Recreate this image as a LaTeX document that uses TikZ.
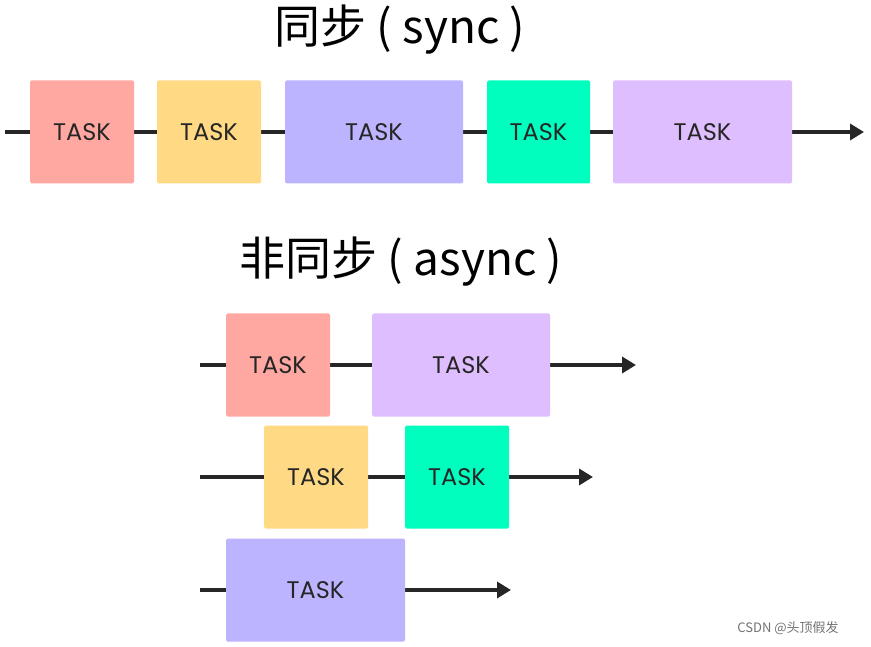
\documentclass[tikz,border=0pt]{standalone}
\usepackage{fontspec}
\setmainfont{Poppins}
\newfontfamily\cjk{Noto Sans CJK SC}
\usetikzlibrary{arrows.meta}
\definecolor{cpink}{HTML}{FFA8A2}
\definecolor{cyel}{HTML}{FFD983}
\definecolor{cblue}{HTML}{BDB4FF}
\definecolor{cgreen}{HTML}{00FFBF}
\definecolor{clav}{HTML}{DFBEFF}
\tikzset{task/.style={fill=#1,rounded corners=1.5pt,inner sep=0pt,font=\fontsize{24}{26}\selectfont,text=black!85},
 ln/.style={line width=3.5pt,black!85},
 arr/.style={ln,-{Triangle[length=14pt,width=16pt]}}}
\begin{document}
\begin{tikzpicture}[x=1pt,y=-1pt]
\useasboundingbox[fill=white] (0,0) rectangle (871,647);
\node[font=\cjk\fontsize{46}{50}\selectfont] (t1) at (400,30) {同步 ( sync )};
\node[font=\cjk\fontsize{46}{50}\selectfont] (t2) at (401,262) {非同步 ( async )};
% row 1
\coordinate (s1) at (5,132); \coordinate (e1) at (864,132);
\draw[arr] (s1) -- (e1);
\node[task=cpink,minimum width=104,minimum height=103] (a1) at (82,132) {TASK};
\node[task=cyel,minimum width=104,minimum height=103] (a2) at (209,132) {TASK};
\node[task=cblue,minimum width=178,minimum height=103] (a3) at (374,132) {TASK};
\node[task=cgreen,minimum width=103,minimum height=103] (a4) at (538.5,132) {TASK};
\node[task=clav,minimum width=179,minimum height=103] (a5) at (702.5,132) {TASK};
% row 2
\coordinate (s2) at (200,365); \coordinate (e2) at (636,365);
\draw[arr] (s2) -- (e2);
\node[task=cpink,minimum width=104,minimum height=103] (b1) at (278,365) {TASK};
\node[task=clav,minimum width=178,minimum height=103] (b2) at (461,365) {TASK};
% row 3
\coordinate (s3) at (200,477); \coordinate (e3) at (593,477);
\draw[arr] (s3) -- (e3);
\node[task=cyel,minimum width=104,minimum height=103] (c1) at (316,477) {TASK};
\node[task=cgreen,minimum width=104,minimum height=103] (c2) at (457,477) {TASK};
% row 4
\coordinate (s4) at (200,590); \coordinate (e4) at (511,590);
\draw[arr] (s4) -- (e4);
\node[task=cblue,minimum width=179,minimum height=103] (d1) at (315.5,590) {TASK};
\node[font=\cjk\fontsize{13}{14}\selectfont,text=black!55] (wm) at (788,628) {CSDN @头顶假发};
\end{tikzpicture}
\end{document}
